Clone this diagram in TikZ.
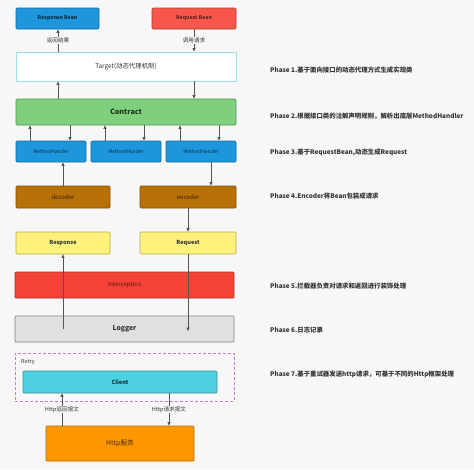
\documentclass[tikz,border=0pt]{standalone}
\usepackage{fontspec}
\setmainfont{Noto Sans CJK SC}
\usetikzlibrary{arrows.meta,calc}
\definecolor{bg}{HTML}{F7F7F7}
\definecolor{cblue}{HTML}{1E96DC}
\definecolor{cred}{HTML}{F7574B}
\definecolor{cgreen}{HTML}{7ED07C}
\definecolor{cbrown}{HTML}{B87106}
\definecolor{cyellow}{HTML}{FEF17C}
\definecolor{cinter}{HTML}{F44336}
\definecolor{clog}{HTML}{E0E0E0}
\definecolor{ccyan}{HTML}{4DD0E1}
\definecolor{corange}{HTML}{FF9800}
\definecolor{cline}{HTML}{555555}
\definecolor{ctext}{HTML}{333333}
\definecolor{cretry}{HTML}{C07FD0}
\tikzset{
  box/.style={draw=#1!70!black, line width=0.7pt, rounded corners=1pt, inner sep=0pt, anchor=center},
  arr/.style={draw=cline, line width=0.8pt, -{Triangle[length=3.5pt,width=3pt]}},
  ln/.style={draw=cline, line width=0.8pt},
  lab/.style={fill=bg, inner sep=0.6pt, font=\fontsize{5.6}{6}\selectfont, text=ctext},
  phase/.style={anchor=west, inner sep=0pt, font=\bfseries\fontsize{6.4}{7}\selectfont, text=ctext}
}
\begin{document}
\begin{tikzpicture}[x=1pt,y=-1pt]
\useasboundingbox (0,0) rectangle (474,469);
\fill[bg] (0,0) rectangle (474,469);

% boxes
\node[box=cblue, fill=cblue, minimum width=83pt, minimum height=21pt, font=\bfseries\fontsize{5.2}{6}\selectfont, text={cblue!30!black}] (rb) at (57.5,18.5) {Response Bean};
\node[box=cred, fill=cred, minimum width=84pt, minimum height=21pt, font=\bfseries\fontsize{5.2}{6}\selectfont, text={cred!40!black}] (qb) at (194,18.5) {Request Bean};
\node[draw={ccyan!60!white}, line width=0.8pt, fill=white, inner sep=0pt, minimum width=220pt, minimum height=29pt, font=\fontsize{6.4}{7}\selectfont, text=ctext] (tg) at (126,66.5) {Target(动态代理机制)};
\node[box=cgreen, fill=cgreen, minimum width=220pt, minimum height=26pt, font=\bfseries\fontsize{7.2}{8}\selectfont, text={cgreen!25!black}] (ct) at (126,112) {Contract};
\foreach \n/\x in {m1/51,m2/126,m3/201}{
  \node[box=cblue, fill=cblue, minimum width=70pt, minimum height=21pt, font=\fontsize{5}{5}\selectfont, text={cblue!30!black}] (\n) at (\x,151.5) {MethodHander};
}
\node[box=cbrown, fill=cbrown, minimum width=94pt, minimum height=22pt, font=\fontsize{6}{6}\selectfont, text={cbrown!30!black}] (dec) at (63,197) {decoder};
\node[box=cbrown, fill=cbrown, minimum width=96pt, minimum height=22pt, font=\fontsize{6}{6}\selectfont, text={cbrown!30!black}] (enc) at (188,197) {encoder};
\node[box=cyellow, fill=cyellow, minimum width=94pt, minimum height=22pt, font=\bfseries\fontsize{5.6}{6}\selectfont, text=ctext] (rsp) at (63,243) {Response};
\node[box=cyellow, fill=cyellow, minimum width=96pt, minimum height=22pt, font=\bfseries\fontsize{5.6}{6}\selectfont, text=ctext] (req) at (188,243) {Request};
\node[box=cinter, fill=cinter, minimum width=219pt, minimum height=26pt, font=\fontsize{6}{6}\selectfont, text={cinter!35!black}] (ic) at (124.5,285) {Interceptors};
\node[box=clog, draw=gray, fill=clog, minimum width=219pt, minimum height=26pt, font=\bfseries\fontsize{6.8}{7}\selectfont, text=ctext] (lg) at (124.5,329) {Logger};
\node[draw=cretry, dashed, dash pattern=on 3pt off 2pt, line width=0.8pt, minimum width=219pt, minimum height=48pt, inner sep=0pt] (rt) at (124.5,377) {};
\node[anchor=west, inner sep=0pt, font=\fontsize{5.4}{6}\selectfont, text=ctext] (rtl) at (21,362) {Retry};
\node[box=ccyan, fill=ccyan, minimum width=194pt, minimum height=22pt, font=\bfseries\fontsize{5.6}{6}\selectfont, text={ccyan!25!black}] (cl) at (120,382) {Client};
\node[box=corange, fill=corange, minimum width=148pt, minimum height=35pt, font=\fontsize{6.8}{7}\selectfont, text={corange!30!black}] (hs) at (120,443.5) {Http服务};

% connectors
\draw[arr] (tg.north -| 58,0) -- node[lab]{返回结果} (rb.south -| 58,0);
\draw[arr] (qb.south -| 194,0) -- node[lab]{调用请求} (tg.north -| 194,0);
\draw[arr] (ct.north -| 58,0) -- (tg.south -| 58,0);
\draw[arr] (tg.south -| 194,0) -- (ct.north -| 194,0);
\foreach \u/\d/\m in {30/70/m1,105/144/m2,180/219/m3}{
  \draw[arr] (\m.north -| \u,0) -- (ct.south -| \u,0);
  \draw[arr] (ct.south -| \d,0) -- (\m.north -| \d,0);
}
\draw[arr] (dec.north -| 63,0) -- (m1.south -| 63,0);
\draw[arr] (m3.south -| 211,0) -- (enc.north -| 211,0);
\draw[arr] (enc.south -| 188,0) -- (req.north -| 188,0);
\draw[arr] (lg.center -| 63,0) -- (rsp.south -| 63,0);
\draw[arr] (req.south -| 188,0) -- ($(lg.center -| 188,0)+(0,2)$);
\draw[arr] (hs.north -| 62,0) -- node[lab]{Http返回报文} (cl.south -| 62,0);
\draw[arr] (cl.south -| 169,0) -- node[lab]{Http请求报文} (hs.north -| 169,0);

% phases
\node[phase] (p1) at (270,70) {Phase 1.基于面向接口的动态代理方式生成实现类};
\node[phase] (p2) at (270,116) {Phase 2.根据接口类的注解声明规则，解析出底层MethodHandler};
\node[phase] (p3) at (270,152) {Phase 3.基于RequestBean,动态生成Request};
\node[phase] (p4) at (270,196) {Phase 4.Encoder将Bean包装成请求};
\node[phase] (p5) at (270,286) {Phase 5.拦截器负责对请求和返回进行装饰处理};
\node[phase] (p6) at (270,330) {Phase 6.日志记录};
\node[phase] (p7) at (270,374) {Phase 7.基于重试器发送http请求，可基于不同的Http框架处理};
\end{tikzpicture}
\end{document}
